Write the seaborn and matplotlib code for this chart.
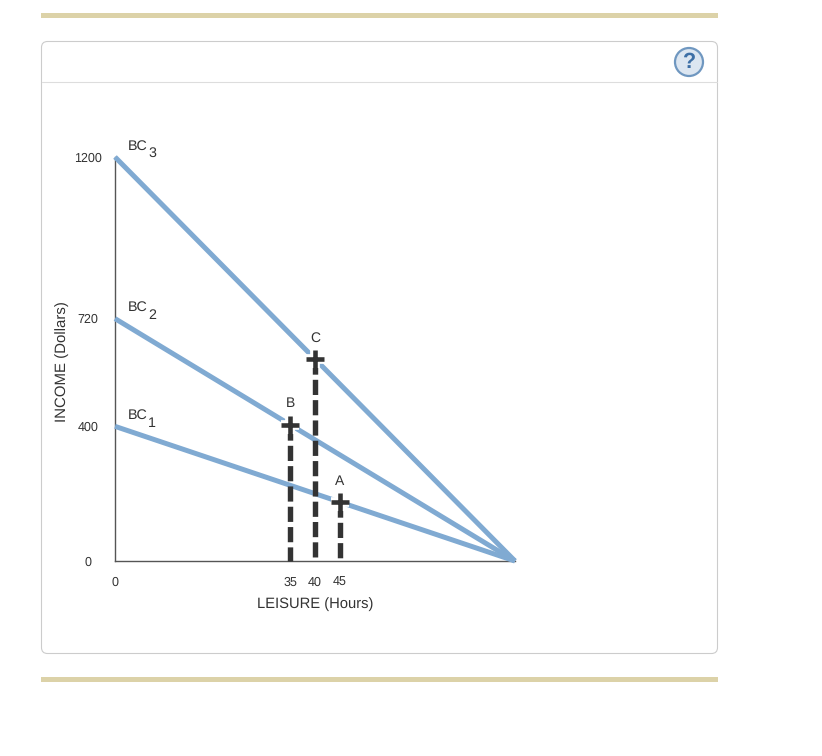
# -*- coding: utf-8 -*-
import pandas as pd
import matplotlib
matplotlib.use('Agg')
import matplotlib.pyplot as plt
import matplotlib.patheffects as pe
from matplotlib.lines import Line2D
from matplotlib.patches import Circle, FancyBboxPatch, Rectangle
import seaborn as sns

# ===================== data =====================
budget_names = ['BC1', 'BC2', 'BC3']
budget_income = [400, 720, 1200]
max_leisure = 80

point_names = ['A', 'B', 'C']
point_leisure = [45, 35, 40]
point_income = [175, 405, 600]

x_ticks = [0, 35, 40, 45]
y_ticks = [0, 400, 720, 1200]

BLUE = '#80aad2'
DARK = '#333333'
TAN = '#dcd2a8'
W, H = 822, 756

sns.set_style('white')
plt.rcParams['font.family'] = ['Liberation Sans', 'DejaVu Sans']
plt.rcParams['text.hinting'] = 'no_hinting'

fig = plt.figure(figsize=(W / 100, H / 100), dpi=100)
ax = fig.add_axes([115 / W, (H - 561) / H, 400 / W, 404 / H])
ax.patch.set_alpha(0)


# ===================== page frame (pixel coords, y from top) =====================
def px_rect(x0, y0, x1, y1, color):
    fig.add_artist(Rectangle((x0 / W, 1 - y1 / H), (x1 - x0) / W, (y1 - y0) / H,
                             transform=fig.transFigure, color=color, lw=0))


px_rect(41, 13, 718, 18, TAN)
px_rect(41, 677, 718, 682, TAN)
fig.add_artist(FancyBboxPatch((41.5, H - 653.5), 676, 612, boxstyle='round,pad=0,rounding_size=6',
                              transform=None, fc='white', ec='#cccccc', lw=0.8, zorder=-5))
fig.add_artist(Line2D([42 / W, 717 / W], [1 - 81.5 / H, 1 - 81.5 / H], color='#dddddd', lw=0.8))
fig.add_artist(Circle((689, H - 62), 14, transform=None, fc='#dce6f1', ec='#6f97c0', lw=1.6))
fig.text(689 / W, 1 - 62 / H, '?', ha='center', va='center', fontsize=15.5,
         fontweight='bold', color='#3d6fa6')

# ===================== budget lines =====================
for name, income in zip(budget_names, budget_income):
    df = pd.DataFrame({'leisure': [0, max_leisure], 'income': [income, 0]})
    sns.lineplot(data=df, x='leisure', y='income', ax=ax, color=BLUE, lw=3.6,
                 solid_capstyle='butt', clip_on=False, zorder=3, estimator=None, sort=False)
    ax.text(2.6, income + 33, 'BC', fontsize=10.3, color=DARK, va='center', ha='left')
    ax.text(6.6, income + 10, name[-1], fontsize=10.3, color=DARK, va='center', ha='left')

# ===================== drop lines and points =====================
for name, lx, ly in zip(point_names, point_leisure, point_income):
    df = pd.DataFrame({'leisure': [lx, lx], 'income': [ly, 0]})
    sns.lineplot(data=df, x='leisure', y='income', ax=ax, color=DARK, lw=3.9,
                 linestyle=(0, (2.8, 0.95)), clip_on=False, zorder=4, estimator=None, sort=False)
    ax.text(lx, ly + 62, name, fontsize=10, color=DARK, ha='center', va='center')

points = pd.DataFrame({'leisure': point_leisure, 'income': point_income})
sc = sns.scatterplot(data=points, x='leisure', y='income', ax=ax, marker='+', s=170,
                     color=DARK, linewidth=3.3, clip_on=False, zorder=5)
sc.collections[-1].set_path_effects([pe.withStroke(linewidth=7, foreground='white')])

# ===================== axes =====================
ax.set_xlim(0, max_leisure)
ax.set_ylim(0, 1200)
ax.set_xticks(x_ticks)
ax.set_yticks(y_ticks)
ax.tick_params(axis='both', length=0, labelsize=9, labelcolor=DARK)
ax.tick_params(axis='x', pad=11)
ax.tick_params(axis='y', pad=19.5)
for lab in ax.get_yticklabels():
    lab.set_ha('center')

ax.set_xlabel('LEISURE (Hours)', fontsize=10.6, color=DARK)
ax.set_ylabel('INCOME (Dollars)', fontsize=10.8, color=DARK)
ax.xaxis.set_label_coords(0.5, -0.09)
ax.yaxis.set_label_coords(-0.115, 0.493)

for side in ['top', 'right']:
    ax.spines[side].set_visible(False)
for side in ['left', 'bottom']:
    ax.spines[side].set_color('#555555')
    ax.spines[side].set_linewidth(1.0)

fig.savefig('out.png', dpi=100)
plt.close(fig)
